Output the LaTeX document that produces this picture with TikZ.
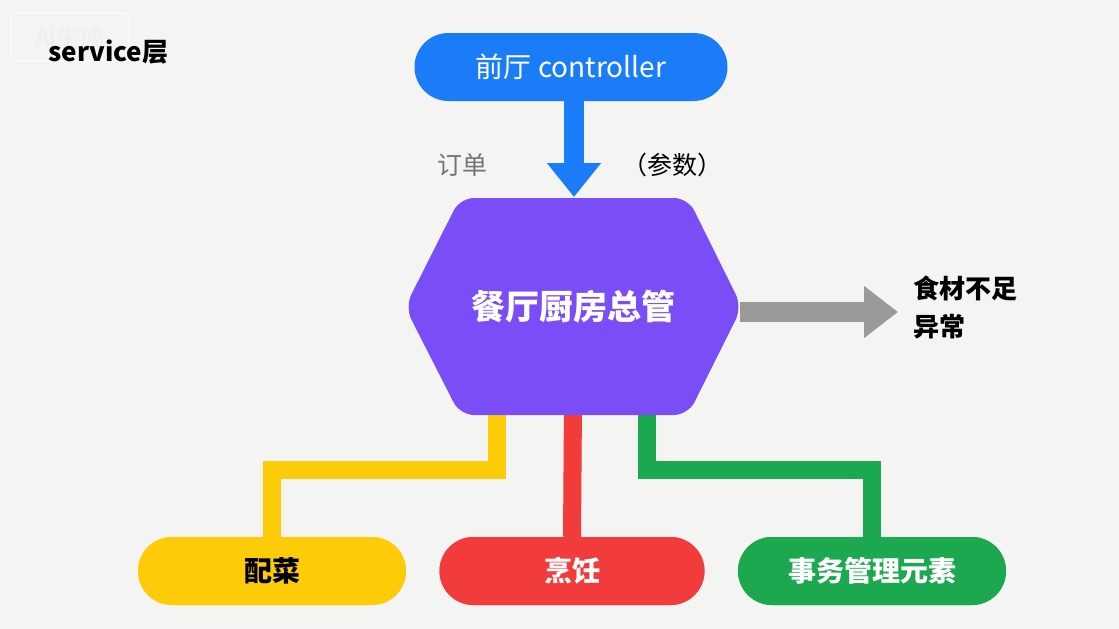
\documentclass[tikz,border=0pt]{standalone}
\usepackage{fontspec}
\setmainfont{Noto Sans CJK SC}
\usetikzlibrary{arrows.meta}
\definecolor{bg}{HTML}{F4F4F2}
\definecolor{cblue}{HTML}{1A7CF7}
\definecolor{cpurple}{HTML}{7A4DF6}
\definecolor{cyellow}{HTML}{FDCB08}
\definecolor{cred}{HTML}{F23B3B}
\definecolor{cgreen}{HTML}{1BA84F}
\definecolor{cgray}{HTML}{9A9A9A}
\begin{document}
\begin{tikzpicture}[x=1pt,y=-1pt,
  pill/.style={rounded corners=34pt,minimum width=268pt,minimum height=68pt,inner sep=0pt,font=\fontsize{28}{32}\selectfont\bfseries},
  conn/.style={line width=18pt}]
\fill[bg] (0,0) rectangle (1119,629);
\useasboundingbox (0,0) rectangle (1119,629);
\node[draw=white,line width=1.5pt,rounded corners=6pt,opacity=0.7,text=white!85!gray,minimum width=118pt,minimum height=48pt,font=\fontsize{24}{26}\selectfont] (wm) at (70,37) {AI生成};
\node[anchor=west,font=\fontsize{26}{30}\selectfont\bfseries] (svc) at (45,52) {service层};
% connectors behind
\coordinate (hy) at (497,405);
\coordinate (hr) at (573,405);
\coordinate (hg) at (647,405);
\node[pill,fill=cyellow,text=black] (ya) at (272,571) {配菜};
\node[pill,fill=cred,text=white,minimum width=265pt] (rd) at (572,571) {烹饪};
\node[pill,fill=cgreen,text=white] (gn) at (872,571) {事务管理元素};
\draw[conn,cyellow] (hy) |- (272,470) -- (ya.north);
\draw[conn,cred] (hr) -- (rd.north);
\draw[conn,cgreen] (hg) |- (872,470) -- (gn.north);
% redraw pills over connector ends
\node[pill,fill=cyellow,text=black] at (272,571) {配菜};
\node[pill,fill=cred,text=white,minimum width=265pt] at (572,571) {烹饪};
\node[pill,fill=cgreen,text=white] at (872,571) {事务管理元素};
% hexagon
\fill[cpurple,rounded corners=14pt] (405,307) -- (460,198) -- (688,198) -- (742,307) -- (688,415) -- (460,415) -- cycle;
\node[text=white,font=\fontsize{34}{38}\selectfont\bfseries] (hex) at (573,307) {餐厅厨房总管};
% controller
\node[pill,fill=cblue,text=white,minimum width=313pt,font=\fontsize{28}{32}\selectfont] (ctl) at (571,67) {前厅 controller};
\coordinate (htop) at (574,197);
\draw[cblue,line width=20pt,-{Triangle[width=52pt,length=34pt]}] (ctl.south) ++(3,0) -- (htop);
\node[text=gray!90!black,font=\fontsize{25}{28}\selectfont] (od) at (462,165) {订单};
\node[font=\fontsize{25}{28}\selectfont] (pa) at (672,165) {（参数）};
% gray arrow
\coordinate (gs) at (740,312);
\coordinate (ge) at (898,312);
\draw[cgray,line width=20pt,-{Triangle[width=50pt,length=34pt]}] (gs) -- (ge);
\node[anchor=north west,align=left,font=\fontsize{26}{38}\selectfont\bfseries] (ex) at (910,272) {食材不足\\异常};
\end{tikzpicture}
\end{document}
